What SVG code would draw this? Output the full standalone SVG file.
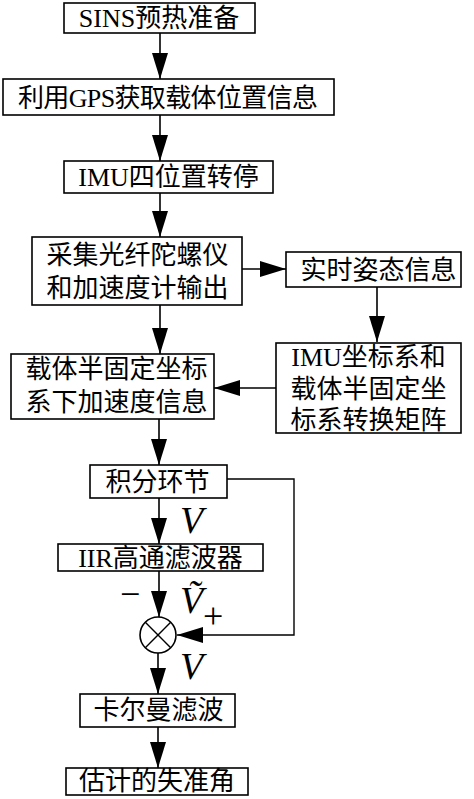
<svg xmlns="http://www.w3.org/2000/svg" width="474" height="799" viewBox="0 0 474 799">
<style>
.box{fill:#fff;stroke:#000;stroke-width:1.6}
.t{font-family:"Liberation Serif","Noto Sans CJK SC",serif;font-size:26px;fill:#000;text-anchor:middle;dominant-baseline:central}
.lbl{font-family:"Liberation Serif","DejaVu Serif",serif;font-style:italic;font-size:38px;fill:#000}
.sign{font-family:"Liberation Serif","DejaVu Serif",serif;font-size:36px;fill:#000}
.c{fill:none;stroke:#000;stroke-width:1.6}
.fb{fill:none;stroke:#000;stroke-width:1.4}
</style>
<defs>
<marker id="ah" markerUnits="userSpaceOnUse" markerWidth="26" markerHeight="16" refX="26" refY="8" orient="auto" viewBox="0 0 26 16">
<path d="M0,0 L26,8 L0,16 z" fill="#000"/>
</marker>
</defs>
<rect width="474" height="799" fill="#fff"/>
<g id="connectors">
<line class="c" x1="160" y1="33" x2="160" y2="79" marker-end="url(#ah)"/>
<line class="c" x1="160" y1="115" x2="160" y2="161" marker-end="url(#ah)"/>
<line class="c" x1="160" y1="193" x2="160" y2="237" marker-end="url(#ah)"/>
<line class="c" x1="242" y1="269" x2="286" y2="269" marker-end="url(#ah)"/>
<line class="c" x1="377" y1="287" x2="377" y2="342" marker-end="url(#ah)"/>
<line class="c" x1="276" y1="388" x2="214" y2="388" marker-end="url(#ah)"/>
<line class="c" x1="160" y1="305" x2="160" y2="354" marker-end="url(#ah)"/>
<line class="c" x1="159" y1="419" x2="159" y2="465" marker-end="url(#ah)"/>
<line class="c" x1="159" y1="498" x2="159" y2="544" marker-end="url(#ah)"/>
<line class="c" x1="159" y1="571" x2="159" y2="617" marker-end="url(#ah)"/>
<line class="c" x1="158" y1="653" x2="158" y2="694" marker-end="url(#ah)"/>
<line class="c" x1="158" y1="727" x2="158" y2="768" marker-end="url(#ah)"/>
<polyline class="fb" points="227,479 294,479 294,635 177,635" marker-end="url(#ah)"/>
</g>
<g id="n1"><rect class="box" x="64" y="3" width="191" height="30"/><text class="t" x="159" y="18">SINS预热准备</text></g>
<g id="n2"><rect class="box" x="3" y="79" width="331" height="36"/><text class="t" x="168" y="98" textLength="300">利用GPS获取载体位置信息</text></g>
<g id="n3"><rect class="box" x="64" y="161" width="209" height="32"/><text class="t" x="168.5" y="177">IMU四位置转停</text></g>
<g id="n4"><rect class="box" x="32" y="237" width="210" height="68"/><text class="t" x="137.5" y="255">采集光纤陀螺仪</text><text class="t" x="137.5" y="288">和加速度计输出</text></g>
<g id="n5"><rect class="box" x="286" y="252" width="175" height="35"/><text class="t" x="378.5" y="270">实时姿态信息</text></g>
<g id="n6"><rect class="box" x="276" y="343" width="185" height="90"/><text class="t" x="368.5" y="357">IMU坐标系和</text><text class="t" x="368.5" y="389">载体半固定坐</text><text class="t" x="368.5" y="420">标系转换矩阵</text></g>
<g id="n7"><rect class="box" x="11" y="354" width="203" height="65"/><text class="t" x="116.5" y="369">载体半固定坐标</text><text class="t" x="116.5" y="402">系下加速度信息</text></g>
<g id="n8"><rect class="box" x="90" y="465" width="137" height="33"/><text class="t" x="157.5" y="482">积分环节</text></g>
<g id="n9"><rect class="box" x="58" y="544" width="205" height="27"/><text class="t" x="160.5" y="558">IIR高通滤波器</text></g>
<g id="sum"><circle cx="158" cy="635" r="18" fill="#fff" stroke="#000" stroke-width="1.6"/><line x1="145.3" y1="622.3" x2="170.7" y2="647.7" stroke="#000" stroke-width="1.4"/><line x1="170.7" y1="622.3" x2="145.3" y2="647.7" stroke="#000" stroke-width="1.4"/></g>
<g id="n10"><rect class="box" x="80" y="694" width="155" height="33"/><text class="t" x="158.5" y="710">卡尔曼滤波</text></g>
<g id="n11"><rect class="box" x="66" y="768" width="182" height="27"/><text class="t" x="157" y="781">估计的失准角</text></g>
<g id="labels">
<text class="lbl" x="180" y="533">V</text>
<text class="lbl" x="180" y="613">Ṽ</text>
<text class="lbl" x="180" y="679">V</text>
<text class="sign" x="120" y="606">−</text>
<text class="sign" x="203" y="628">+</text>
</g>
</svg>
